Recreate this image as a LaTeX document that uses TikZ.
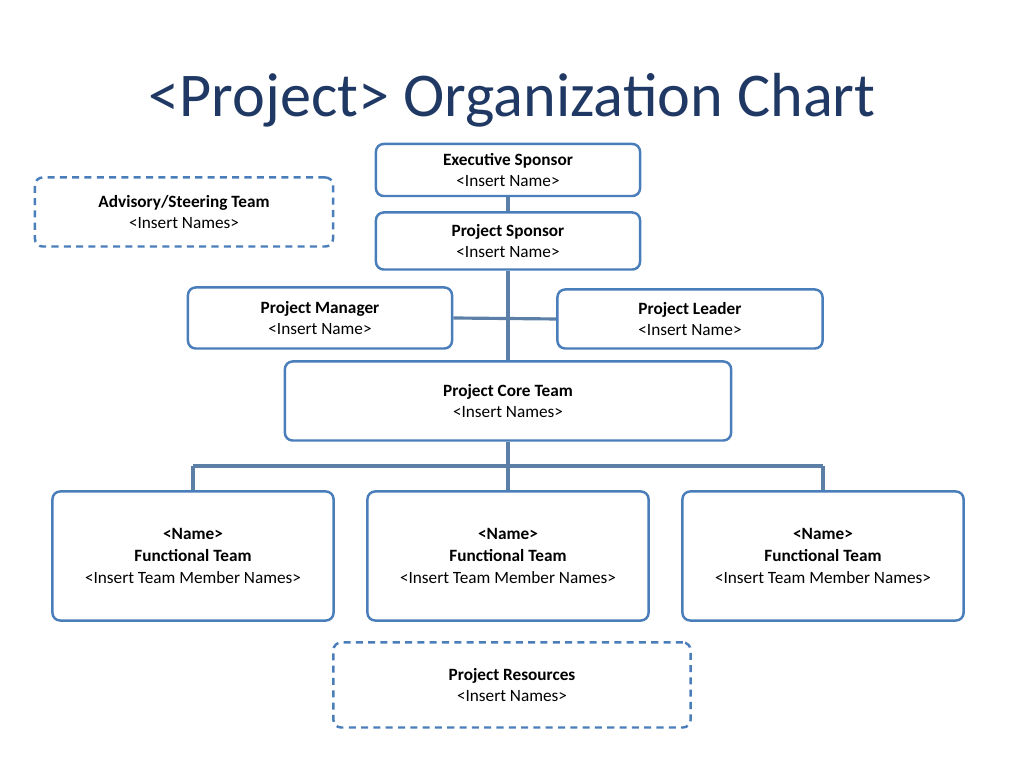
\documentclass[tikz,border=0pt]{standalone}
\usepackage{fontspec}
\setmainfont{Carlito}
\usetikzlibrary{backgrounds}
\definecolor{boxblue}{HTML}{4A7EBB}
\definecolor{linkblue}{HTML}{5B7FA6}
\definecolor{titleblue}{HTML}{1F3864}
\tikzset{
  orgbox/.style={draw=boxblue, line width=0.7pt, rounded corners=2.2pt, fill=white, align=center, font=\fontsize{4.9}{6.2}\selectfont, inner sep=0pt},
  dashbox/.style={orgbox, dash pattern=on 2pt off 1.5pt},
  link/.style={draw=linkblue, line width=0.9pt}
}
\begin{document}
\begin{tikzpicture}[x=0.01cm, y=-0.01cm]
    \useasboundingbox (0,0) rectangle (1024,768);

    % title
    \node[text=titleblue, font=\fontsize{17.7}{20}\selectfont] (title) at (512,100) {<Project> Organization Chart};

    \coordinate (bus) at (508,466);
    \coordinate (busL) at (193,466);
    \coordinate (busR) at (823,466);

    % boxes
    \node[orgbox, minimum width=2.64cm, minimum height=0.52cm] (exec) at (508,170) {\textbf{Executive Sponsor}\\<Insert Name>};
    \node[dashbox, minimum width=2.98cm, minimum height=0.69cm] (advisory) at (184,212) {\textbf{Advisory/Steering Team}\\<Insert Names>};
    \node[orgbox, minimum width=2.64cm, minimum height=0.57cm] (sponsor) at (508,241) {\textbf{Project Sponsor}\\<Insert Name>};
    \node[orgbox, minimum width=2.64cm, minimum height=0.61cm] (manager) at (320,318) {\textbf{Project Manager}\\<Insert Name>};
    \node[orgbox, minimum width=2.65cm, minimum height=0.59cm] (leader) at (690,319) {\textbf{Project Leader}\\<Insert Name>};
    \node[orgbox, minimum width=4.46cm, minimum height=0.79cm] (core) at (508,401) {\textbf{Project Core Team}\\<Insert Names>};
    \foreach \n/\x in {teamA/193, teamB/508, teamC/823} {
        \node[orgbox, minimum width=2.81cm, minimum height=1.29cm] (\n) at (\x,556) {\textbf{<Name>}\\\textbf{Functional Team}\\<Insert Team Member Names>};
    }
    \node[dashbox, minimum width=3.57cm, minimum height=0.85cm] (resources) at (512,685) {\textbf{Project Resources}\\<Insert Names>};

    % links
    \begin{pgfonlayer}{background}
    \draw[link] (exec.south) -- (sponsor.north);
    \draw[link] (sponsor.south) -- (core.north);
    \draw[link] (manager.east) -- (leader.west);
    \draw[link] (core.south) -- (bus);
    \draw[link] (busL) -- (busR);
    \draw[link] (busL) -- (teamA.north);
    \draw[link] (bus) -- (teamB.north);
    \draw[link] (busR) -- (teamC.north);
    \end{pgfonlayer}
\end{tikzpicture}
\end{document}
